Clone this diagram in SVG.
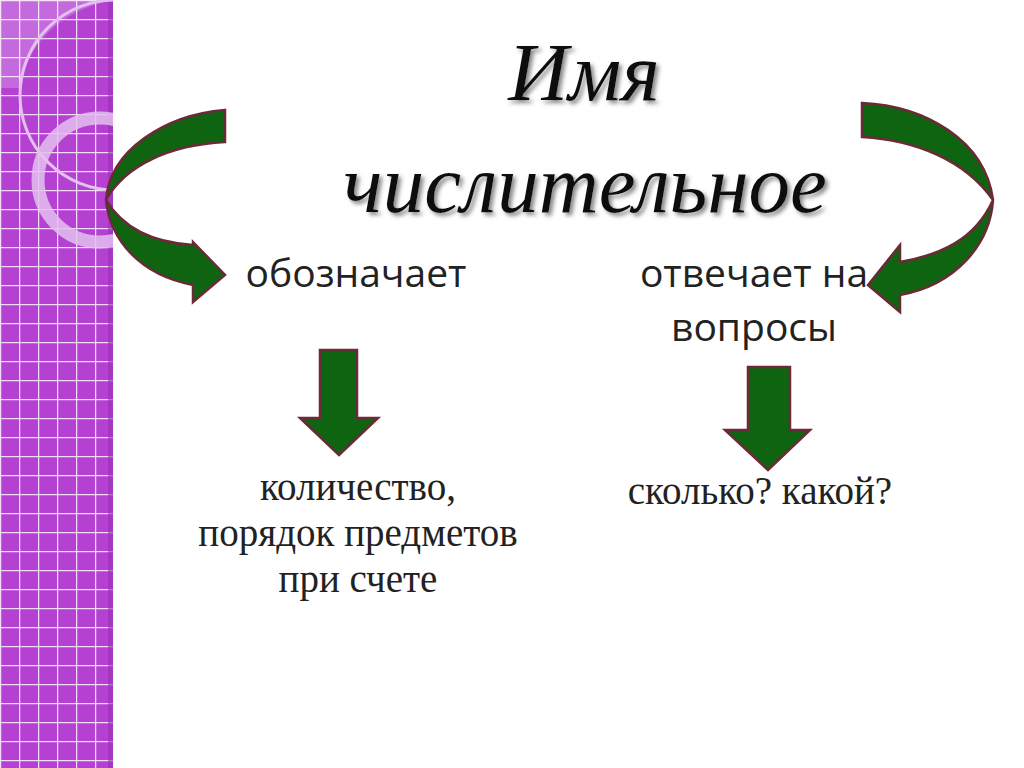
<svg xmlns="http://www.w3.org/2000/svg" width="1024" height="768" viewBox="0 0 1024 768">
<defs>
<pattern id="grid" width="19" height="19" patternUnits="userSpaceOnUse">
<rect width="19" height="19" fill="#b441d2"/>
<path d="M0 0.5H19M0.5 0V19" stroke="#f2dcf7" stroke-width="1.5"/>
</pattern>
<clipPath id="bc"><rect width="113" height="768"/></clipPath>
<filter id="sh"><feDropShadow dx="3" dy="3" stdDeviation="2" flood-color="#888"/></filter>
</defs>
<style>
.ar{fill:#0e6410;stroke:#6b2a35;stroke-width:2.5}
.t{font-family:"Open Sans","DejaVu Sans",sans-serif;font-size:39px;fill:#222;text-anchor:middle}
.s{font-family:"Liberation Serif",serif;font-size:39px;fill:#222;text-anchor:middle}
.h{font-family:"Liberation Serif",serif;font-style:italic;font-size:83px;fill:#111;text-anchor:middle}
</style>
<rect width="1024" height="768" fill="#fff"/>
<g id="band">
<rect width="113" height="768" fill="url(#grid)"/>
<rect x="108" width="5" height="768" fill="#9a30b8" opacity="0.6"/>
<g clip-path="url(#bc)">
<path d="M0 0 H113 V0 C60 10 25 45 22 88 H0Z" fill="#fff" opacity="0.22"/>
<circle cx="115" cy="95" r="95" fill="none" stroke="#e4c0ef" stroke-width="3"/>
<circle cx="100" cy="180" r="62" fill="none" stroke="#e4c0ef" stroke-width="13" opacity="0.85"/>
</g>
</g>
<g id="title" filter="url(#sh)">
<text class="h" x="584" y="100">Имя</text>
<text class="h" x="585" y="212">числительное</text>
</g>
<g id="connectors">
<path class="ar" d="M225 110 L225 142 C170 145 125 165 106 200 C125 232 160 243 193 245 L193 242 L225 275 L193 302 L193 285 C140 275 110 240 106 200 C110 150 165 115 225 110Z"/>
<path class="ar" d="M862 103 L862 137 C915 140 965 160 993 200 C975 240 940 255 900 262 L900 245 L868 285 L900 312 L900 295 C955 285 990 245 993 200 C985 140 925 106 862 103Z"/>
<path class="ar" d="M320 350 H357 V418 H378 L339 455 L300 418 H320Z"/>
<path class="ar" d="M748 367 H790 V430 H810 L768 470 L725 430 H748Z"/>
</g>
<g id="n1"><text class="t" x="356" y="287">обозначает</text></g>
<g id="n2"><text class="t" x="754" y="287">отвечает на</text><text class="t" x="754" y="341">вопросы</text></g>
<g id="n3"><text class="s" x="358" y="500">количество,</text><text class="s" x="358" y="546">порядок предметов</text><text class="s" x="358" y="592">при счете</text></g>
<g id="n4"><text class="s" x="760" y="504">сколько? какой?</text></g>
</svg>
